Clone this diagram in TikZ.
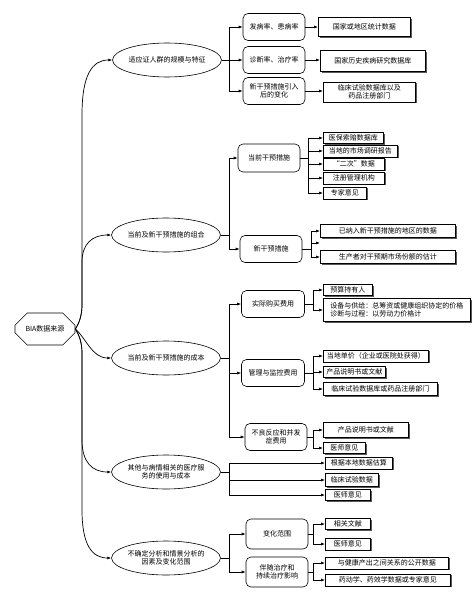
\documentclass[tikz,border=0pt]{standalone}
\usepackage{fontspec}
\newfontfamily\cjk{Noto Sans CJK SC}
\usetikzlibrary{shapes.geometric,shapes.misc,arrows.meta,calc,shadows}
\begin{document}
\begin{tikzpicture}[x=1pt,y=-1pt,
  every node/.style={font=\cjk\fontsize{7}{8.5}\selectfont, inner sep=1.5pt},
  ell/.style={draw, ellipse, minimum width=105pt, minimum height=34pt, align=center, line width=0.6pt, inner sep=0pt},
  rbox/.style={draw, rounded corners=5pt, minimum width=62pt, minimum height=27pt, align=center, line width=0.6pt},
  leaf/.style={draw, anchor=west, align=center, line width=0.5pt, fill=white, drop shadow={shadow xshift=1.3pt, shadow yshift=-1.3pt, fill=black!65, opacity=1}},
  arr/.style={-{Latex[length=4pt,width=3pt]}, line width=0.6pt},
  ln/.style={line width=0.6pt},
  trunk/.style={line width=0.7pt}
]
\fill[white] (0,0) rectangle (474,594);
\useasboundingbox (0,0) rectangle (474,594);

% root
\node[draw, chamfered rectangle, chamfered rectangle xsep=16pt, chamfered rectangle ysep=9pt, minimum width=60pt, minimum height=32pt, inner sep=0pt, line width=0.6pt] (root) at (45,329) {BIA数据来源};

% level 1
\node[ell] (e1) at (167,60) {适应证人群的规模与特征};
\node[ell] (e2) at (166,235) {当前及新干预措施的组合};
\node[ell] (e3) at (166,358) {当前及新干预措施的成本};
\node[ell] (e4) at (166,472) {其他与病情相关的医疗服\\务的使用与成本};
\node[ell] (e5) at (166,558) {不确定分析和情景分析的\\因素及变化范围};

\coordinate (tu) at (82,305);
\coordinate (td) at (82,353);
\draw[trunk,-{Latex[length=4pt,width=3pt]}] (root.east) .. controls +(4,-6) and +(0,10) .. (tu) -- (82,115) .. controls (82,75) and (92,60) .. (e1.west);
\draw[trunk,-{Latex[length=4pt,width=3pt]}] (root.east) .. controls +(4,-6) and +(0,10) .. (tu) -- (82,262) .. controls (82,244) and (92,235) .. (e2.west);
\draw[trunk,-{Latex[length=4pt,width=3pt]}] (root.east) .. controls (86,338) and (92,358) .. (e3.west);
\draw[trunk,-{Latex[length=4pt,width=3pt]}] (root.east) .. controls +(4,6) and +(0,-10) .. (td) -- (82,440) .. controls (82,462) and (92,472) .. (e4.west);
\draw[trunk,-{Latex[length=4pt,width=3pt]}] (root.east) .. controls +(4,6) and +(0,-10) .. (td) -- (82,510) .. controls (82,545) and (92,558) .. (e5.west);

% level 2
\node[rbox] (a1) at (274,27) {发病率、患病率};
\node[rbox] (a2) at (274,60) {诊断率、治疗率};
\node[rbox] (a3) at (274,91) {新干预措施引入\\后的变化};
\node[rbox, minimum height=28pt] (b1) at (269,158) {当前干预措施};
\node[rbox] (b2) at (271,249) {新干预措施};
\node[rbox, minimum width=63pt] (c1) at (273,304) {实际购买费用};
\node[rbox, minimum width=63pt] (c2) at (273,373) {管理与监控费用};
\node[rbox] (c3) at (276,437) {不良反应和并发\\症费用};
\node[rbox, minimum height=30pt] (d1) at (277,534) {变化范围};
\node[rbox, minimum height=30pt] (d2) at (277,572) {伴随治疗和\\持续治疗影响};

% level 1 -> level 2
\coordinate (j1) at ($(e1.east)+(8,0)$);
\draw[ln] (e1.east) -- (j1);
\foreach \n in {a1,a2,a3} \draw[arr] (j1) |- (\n.west);
\coordinate (j2) at ($(e2.east)+(9,0)$);
\draw[ln] (e2.east) -- (j2);
\foreach \n in {b1,b2} \draw[arr] (j2) |- (\n.west);
\coordinate (j3) at ($(e3.east)+(9,0)$);
\draw[ln] (e3.east) -- (j3);
\foreach \n in {c1,c2,c3} \draw[arr] (j3) |- (\n.west);
\coordinate (j5) at ($(e5.east)+(9,0)$);
\draw[ln] (e5.east) -- (j5);
\foreach \n in {d1,d2} \draw[arr] (j5) |- (\n.west);

% leaves
\node[leaf, minimum width=92pt, minimum height=19pt] (la1) at (318,27) {国家或地区统计数据};
\node[leaf, minimum width=105pt, minimum height=21pt] (la2) at (320,61) {国家历史疾病研究数据库};
\node[leaf, minimum width=92pt, minimum height=20pt, inner sep=1pt] (la3) at (323,92) {临床试验数据库以及\\药品注册部门};
\foreach \a/\b in {a1/la1,a2/la2,a3/la3} \draw[arr] (\a.east) -- (\a.east -| \b.west);

\node[leaf, minimum width=60pt, minimum height=11pt, inner ysep=1pt] (lb1) at (323,138) {医保索赔数据库};
\node[leaf, minimum width=74pt, minimum height=12pt, inner ysep=1pt] (lb2) at (323,151) {当地的市场调研报告};
\node[leaf, minimum width=61pt, minimum height=12pt, inner ysep=1pt] (lb3) at (323,164) {“二次”数据};
\node[leaf, minimum width=61pt, minimum height=12pt, inner ysep=1pt] (lb4) at (323,178) {注册管理机构};
\node[leaf, minimum width=43pt, minimum height=12pt, inner ysep=1pt] (lb5) at (323,193) {专家意见};
\coordinate (jb1) at ($(b1.east)+(8,0)$);
\draw[ln] (b1.east) -- (jb1);
\foreach \n in {lb1,lb2,lb3,lb4,lb5} \draw[arr] (jb1) |- (\n.west);

\node[leaf, minimum width=135pt, minimum height=13pt, inner ysep=1pt] (lb6) at (320,231) {已纳入新干预措施的地区的数据};
\coordinate (lbx) at (320,243);
\node[leaf, minimum width=135pt, minimum height=13pt, inner ysep=1pt] (lb7) at (320,257) {生产者对干预期市场份额的估计};
\coordinate (jb2) at ($(b2.east)+(9,0)$);
\draw[ln] (b2.east) -- (jb2);
\foreach \n in {lb6,lb7} \draw[arr] (jb2) |- (\n.west);
\draw[arr] (jb2) |- (lbx);

\node[leaf, minimum width=49pt, minimum height=11pt, inner ysep=1pt] (lc1) at (323,290) {预算持有人};
\node[leaf, minimum width=147pt, minimum height=23pt, inner ysep=1pt, align=left] (lc2) at (323,310) {设备与供给：总筹资或健康组织协定的价格\\诊断与过程：以劳动力价格计};
\coordinate (jc1) at ($(c1.east)+(8,0)$);
\draw[ln] (c1.east) -- (jc1);
\foreach \n in {lc1,lc2} \draw[arr] (jc1) |- (\n.west);

\node[leaf, minimum width=105pt, minimum height=12pt, inner ysep=1pt] (lc3) at (323,356) {当地单价（企业或医院处获得）};
\node[leaf, minimum width=62pt, minimum height=11pt, inner ysep=1pt] (lc4) at (323,372) {产品说明书或文献};
\node[leaf, minimum width=114pt, minimum height=13pt, inner ysep=1pt] (lc5) at (323,389) {临床试验数据库或药品注册部门};
\coordinate (jc2) at ($(c2.east)+(8,0)$);
\draw[ln] (c2.east) -- (jc2);
\foreach \n in {lc3,lc4,lc5} \draw[arr] (jc2) |- (\n.west);

\node[leaf, minimum width=85pt, minimum height=15pt, inner ysep=1pt] (lc6) at (323,430) {产品说明书或文献};
\node[leaf, minimum width=42pt, minimum height=11pt, inner ysep=1pt] (lc7) at (323,448) {医师意见};
\coordinate (jc3) at ($(c3.east)+(6,0)$);
\draw[ln] (c3.east) -- (jc3);
\foreach \n in {lc6,lc7} \draw[arr] (jc3) |- (\n.west);

\node[leaf, minimum width=67pt, minimum height=12pt, inner ysep=1pt] (le1) at (325,463) {根据本地数据估算};
\node[leaf, minimum width=53pt, minimum height=13pt, inner ysep=1pt] (le2) at (325,480) {临床试验数据};
\node[leaf, minimum width=45pt, minimum height=11pt, inner ysep=1pt] (le3) at (325,495) {医师意见};
\coordinate (j4) at ($(e4.east)+(9,0)$);
\draw[ln] (e4.east) -- (j4);
\foreach \n in {le1,le2,le3} \draw[arr] (j4) |- (\n.west);

\node[leaf, minimum width=45pt, minimum height=11pt, inner ysep=1pt] (ld1) at (325,524) {相关文献};
\node[leaf, minimum width=45pt, minimum height=12pt, inner ysep=1pt] (ld2) at (325,544) {医师意见};
\coordinate (jd1) at ($(d1.east)+(5,0)$);
\draw[ln] (d1.east) -- (jd1);
\foreach \n in {ld1,ld2} \draw[arr] (jd1) |- (\n.west);

\node[leaf, minimum width=123pt, minimum height=12pt, inner ysep=1pt] (ld3) at (325,563) {与健康产出之间关系的公开数据};
\node[leaf, minimum width=125pt, minimum height=12pt, inner ysep=1pt] (ld4) at (325,580) {药动学、药效学数据或专家意见};
\coordinate (jd2) at ($(d2.east)+(5,0)$);
\draw[ln] (d2.east) -- (jd2);
\foreach \n in {ld3,ld4} \draw[arr] (jd2) |- (\n.west);
\end{tikzpicture}
\end{document}
